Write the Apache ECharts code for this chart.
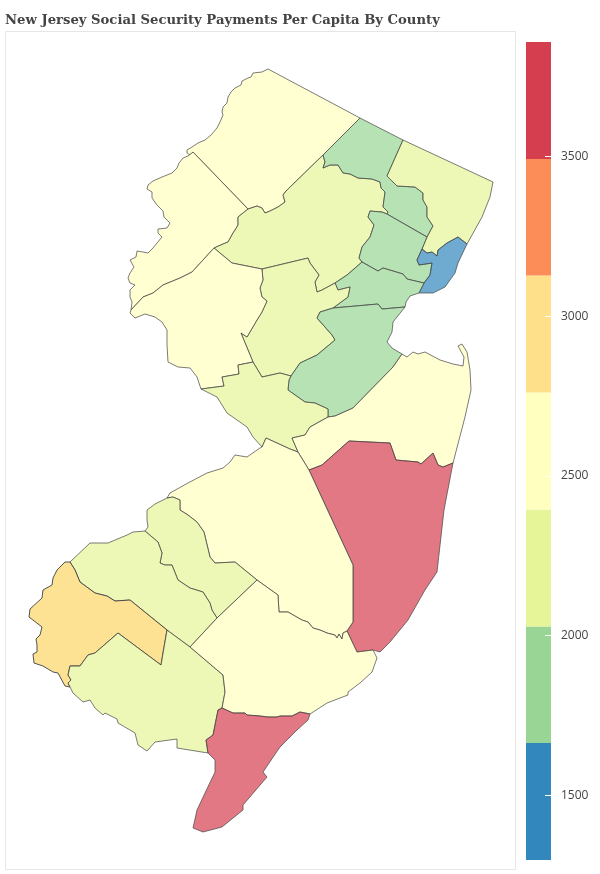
<!DOCTYPE html>
<html>
<head>
<meta charset="utf-8">
<title>New Jersey Social Security Payments Per Capita By County</title>
<script src="https://cdn.jsdelivr.net/npm/echarts@6/dist/echarts.min.js"></script>
<style>
html, body { margin: 0; padding: 0; background: #fff; }
#chart { width: 600px; height: 874px; }
</style>
</head>
<body>
<div id="chart"></div>
<script>
const titleText = 'New Jersey Social Security Payments Per Capita By County';

const countyNames = ['Sussex', 'Warren', 'Morris', 'Passaic', 'Bergen', 'Essex', 'Hudson', 'Union', 'Somerset', 'Middlesex', 'Hunterdon',
    'Mercer', 'Monmouth', 'Ocean', 'Burlington', 'Camden', 'Gloucester', 'Salem', 'Cumberland', 'Atlantic', 'Cape May'];
const countyValues = [2480, 2590, 2260, 1950, 2310, 1780, 1500, 1920, 2200, 2010, 2470,
    2120, 2420, 3600, 2500, 2230, 2290, 2850, 2300, 2650, 3650];

// colour classes, edges
const bandEdges = [1298, 1664, 2029, 2395, 2761, 3127, 3492, 3858];
const bandColors = ['#3288bd', '#99d594', '#e6f598', '#ffffbf', '#fee08b', '#fc8d59', '#d53e4f'];
const tickValues = [1500, 2000, 2500, 3000, 3500];

// county borders, in map units. each one is shared by the two counties on it
const arcs = {
    sussexNE: [[360,118],[268,69]],
    sussexDel: [[268,69],[262,72],[253,73],[251,77],[248,78],[242,81],[241,85],[235,88],[231,92],[228,97],[227,103],[223,107],[222,112],[223,115],[220,122],[217,128],[211,135],[205,140],[198,143],[192,147],[187,150],[187,153],[190,155],[193,152]],
    sussexWarren: [[193,152],[248,209]],
    sussexMorris: [[248,209],[257,206],[262,208],[265,213],[270,211],[278,207],[285,202],[283,195],[286,191],[323,155]],
    sussexPassaic: [[323,155],[360,118]],
    warrenDel: [[193,152],[188,156],[183,158],[179,163],[177,168],[172,173],[162,177],[153,181],[148,185],[147,189],[152,192],[152,198],[157,205],[163,211],[164,217],[170,223],[167,228],[158,229],[158,233],[162,237],[157,243],[153,248],[148,253],[143,252],[137,251],[136,257],[130,260],[134,267],[130,273],[128,278],[130,283],[135,285],[130,290],[130,297],[132,302],[131,310]],
    warrenHunterdon: [[131,310],[143,297],[153,293],[163,285],[180,278],[192,272],[203,260],[214,248]],
    warrenMorris: [[214,248],[223,244],[228,242],[233,233],[235,230],[238,225],[238,217],[248,209]],
    passaicMorris: [[323,155],[325,162],[323,168],[330,165],[338,165],[343,173],[350,174],[358,178],[372,179],[380,182],[381,188],[385,192],[383,207],[388,212],[387,214]],
    passaicNY: [[360,118],[403,140]],
    passaicBergen: [[403,140],[387,176],[397,186],[415,187],[423,193],[423,200],[427,207],[427,217],[433,226],[427,237]],
    passaicEssex: [[427,237],[387,214]],
    essexMorris: [[387,214],[382,212],[370,211],[368,217],[374,225],[370,237],[362,247],[359,258],[362,262]],
    bergenNY: [[403,140],[493,182]],
    bergenCoast: [[493,182],[490,197],[482,217],[467,244]],
    hudsonBergen: [[467,244],[458,237],[447,243],[438,250],[437,256],[432,252],[427,253],[422,249]],
    bergenEssex: [[422,249],[427,237]],
    hudsonEssex: [[422,249],[417,260],[419,265],[432,263],[430,275],[424,283]],
    hudsonUnion: [[424,283],[419,293]],
    hudsonCoast: [[419,293],[433,293],[445,287],[455,273],[458,263],[467,244]],
    essexUnion: [[362,262],[378,271],[383,268],[403,274],[407,279],[424,283]],
    unionMorris: [[362,262],[347,275],[335,283]],
    unionSomerset: [[335,283],[338,290],[350,287],[348,297],[333,308]],
    unionMiddlesex: [[333,308],[378,304],[382,309],[405,307]],
    unionCoast: [[419,293],[410,296],[406,302],[405,307]],
    somersetMorris: [[335,283],[322,290],[317,292],[315,282],[319,275],[310,263],[308,258],[262,269]],
    somersetHunterdon: [[262,269],[263,280],[260,288],[262,297],[267,301],[262,312],[257,320],[247,337],[241,333],[253,362]],
    somersetMercer: [[253,362],[262,377],[280,373],[291,376]],
    middlesexSomerset: [[291,376],[300,363],[317,355],[335,340],[332,335],[317,318],[320,312],[333,308]],
    middlesexCoast: [[405,307],[393,322],[392,332],[387,342],[392,348],[402,354]],
    middlesexMonmouth: [[402,354],[393,367],[353,408],[335,416],[328,417]],
    middlesexMercer: [[328,417],[328,409],[315,403],[305,402],[288,390],[289,380],[291,376]],
    hunterdonMorris: [[262,269],[232,263],[214,248]],
    hunterdonMercer: [[253,362],[238,365],[239,374],[222,377],[224,386],[201,389]],
    hunterdonRiver: [[201,389],[197,377],[190,368],[178,367],[168,362],[167,345],[167,330],[162,322],[155,317],[145,314],[135,318],[130,313],[131,310]],
    mercerRiver: [[201,389],[217,397],[227,413],[247,427],[253,437],[262,447]],
    mercerBurlington: [[262,447],[266,438],[290,449],[298,452]],
    mercerMonmouth: [[328,417],[310,427],[305,435],[292,438],[298,452]],
    monmouthBurlington: [[298,452],[309,470]],
    monmouthOcean: [[309,470],[322,465],[349,441],[390,443],[396,460],[418,462],[421,464],[433,453],[438,465],[443,467],[453,463]],
    monmouthCoast: [[402,354],[407,357],[413,352],[418,354],[425,352],[440,360],[453,364],[463,366],[464,357],[458,346],[462,344],[467,352],[470,370],[471,390],[465,417],[453,463]],
    oceanCoast: [[453,463],[444,510],[437,572],[425,590],[408,620],[390,642],[380,652],[373,650]],
    oceanAtlantic: [[347,631],[357,652],[373,650]],
    burlingtonOcean: [[347,631],[353,622],[353,565],[309,470]],
    burlingtonAtlantic: [[257,580],[278,595],[279,612],[288,612],[302,620],[308,622],[313,628],[320,630],[327,633],[335,635],[337,638],[339,634],[342,639],[343,633],[347,631]],
    burlingtonCamden: [[167,498],[173,497],[180,500],[180,510],[188,515],[197,522],[204,532],[210,557],[215,563],[235,562],[257,580]],
    burlingtonRiver: [[167,498],[170,493],[188,483],[207,473],[223,468],[230,462],[235,455],[247,457],[260,448],[262,447]],
    camdenAtlantic: [[217,618],[257,580]],
    gloucesterCamden: [[145,531],[158,542],[162,553],[160,563],[165,565],[172,565],[178,580],[190,588],[203,592],[210,603],[212,610],[217,618]],
    camdenRiver: [[145,531],[148,527],[147,520],[147,510],[155,504],[167,498]],
    gloucesterRiver: [[70,562],[90,543],[108,543],[127,535],[133,532],[145,531]],
    gloucesterAtlantic: [[217,618],[190,647]],
    gloucesterCumberland: [[190,647],[167,630]],
    salemGloucester: [[167,630],[130,600],[115,601],[107,596],[95,593],[80,582],[75,570],[70,562]],
    salemRiver: [[70,562],[65,562],[57,570],[53,578],[52,585],[43,590],[42,598],[30,609],[29,617],[42,627],[40,635],[36,639],[37,645],[37,652],[33,654],[34,663],[43,666],[53,672],[58,673],[65,686],[70,687]],
    salemCumberland: [[70,687],[68,683],[71,680],[68,675],[70,666],[80,666],[88,655],[95,653],[118,633],[161,665],[163,653],[167,630]],
    cumberlandAtlantic: [[190,647],[223,675],[225,692],[222,708]],
    cumberlandCapeMay: [[222,708],[218,710],[213,735],[206,740],[208,753]],
    cumberlandBay: [[208,753],[177,748],[177,739],[155,742],[147,751],[138,745],[135,733],[118,723],[117,719],[105,713],[103,715],[95,708],[90,700],[83,702],[73,693],[70,687]],
    atlanticCoast: [[373,650],[377,658],[372,672],[360,683],[348,692],[348,695],[340,698],[327,703],[310,714]],
    atlanticCapeMay: [[310,714],[300,712],[292,716],[280,716],[277,717],[268,717],[260,716],[247,715],[245,713],[233,713],[222,708]],
    capeMayCoast: [[208,753],[215,760],[215,772],[205,793],[197,810],[193,828],[203,832],[222,827],[243,810],[243,805],[267,777],[263,772],[280,747],[297,730],[308,720],[310,714]]
};

// which arcs go around each county, '-' means walk it backwards
const countyArcs = {
    'Sussex': 'sussexNE sussexDel sussexWarren sussexMorris sussexPassaic',
    'Warren': 'warrenDel warrenHunterdon warrenMorris -sussexWarren',
    'Morris': 'sussexMorris passaicMorris essexMorris unionMorris somersetMorris hunterdonMorris warrenMorris',
    'Passaic': 'passaicNY passaicBergen passaicEssex -passaicMorris sussexPassaic',
    'Bergen': 'bergenNY bergenCoast hudsonBergen bergenEssex -passaicBergen',
    'Essex': '-bergenEssex hudsonEssex -essexUnion -essexMorris -passaicEssex',
    'Hudson': 'hudsonBergen hudsonEssex hudsonUnion hudsonCoast',
    'Union': 'essexUnion hudsonUnion unionCoast -unionMiddlesex -unionSomerset -unionMorris',
    'Somerset': 'somersetMorris somersetHunterdon somersetMercer middlesexSomerset -unionSomerset',
    'Middlesex': 'unionMiddlesex middlesexCoast middlesexMonmouth middlesexMercer middlesexSomerset',
    'Hunterdon': 'warrenHunterdon -hunterdonMorris somersetHunterdon hunterdonMercer hunterdonRiver',
    'Mercer': 'hunterdonMercer mercerRiver mercerBurlington -mercerMonmouth middlesexMercer -somersetMercer',
    'Monmouth': 'monmouthBurlington monmouthOcean -monmouthCoast middlesexMonmouth mercerMonmouth',
    'Ocean': 'monmouthOcean oceanCoast -oceanAtlantic burlingtonOcean',
    'Burlington': 'monmouthBurlington -burlingtonOcean -burlingtonAtlantic -burlingtonCamden burlingtonRiver mercerBurlington',
    'Camden': 'burlingtonCamden -camdenAtlantic -gloucesterCamden camdenRiver',
    'Gloucester': 'gloucesterRiver gloucesterCamden gloucesterAtlantic gloucesterCumberland salemGloucester',
    'Salem': 'salemRiver salemCumberland salemGloucester',
    'Cumberland': 'salemCumberland -gloucesterCumberland cumberlandAtlantic cumberlandCapeMay cumberlandBay',
    'Atlantic': 'burlingtonAtlantic oceanAtlantic atlanticCoast atlanticCapeMay -cumberlandAtlantic -gloucesterAtlantic camdenAtlantic',
    'Cape May': 'cumberlandCapeMay capeMayCoast atlanticCapeMay'
};

function ring(name) {
    let points = [];
    countyArcs[name].split(' ').forEach((key) => {
        let arc = key[0] === '-' ? arcs[key.slice(1)].slice().reverse() : arcs[key];
        points = points.concat(arc);
    });
    points.push(points[0]);
    return points;
}

echarts.registerMap('NJ', {
    type: 'FeatureCollection',
    features: countyNames.map((name) => ({
        type: 'Feature',
        properties: { name: name },
        geometry: { type: 'Polygon', coordinates: [ring(name)] }
    }))
});

const bandSeries = bandColors.map((color, i) => ({
    type: 'bar',
    stack: 'bar',
    xAxisIndex: 0,
    yAxisIndex: 0,
    barWidth: '100%',
    silent: true,
    itemStyle: { color: color },
    data: [i === 0 ? bandEdges[1] : bandEdges[i + 1] - bandEdges[i]]
}));

const chart = echarts.init(document.getElementById('chart'), null, { renderer: 'canvas' });
chart.setOption({
    animation: false,
    backgroundColor: '#fff',
    title: {
        text: titleText,
        left: 0,
        top: 9,
        textStyle: { fontFamily: 'DejaVu Serif', fontSize: 13.2, fontWeight: 'bold', color: '#444' }
    },
    graphic: [{
        type: 'rect',
        silent: true,
        z: -1,
        shape: { x: 5.5, y: 31.5, width: 510, height: 838 },
        style: { fill: 'none', stroke: '#e6e6e6', lineWidth: 1 }
    }],
    grid: { left: 526, top: 42, width: 25, height: 818 },
    xAxis: { type: 'category', data: ['bar'], show: false },
    yAxis: {
        type: 'value',
        position: 'right',
        z: 10, // ticks sit on top of the bar
        min: bandEdges[0],
        max: bandEdges[bandEdges.length - 1],
        splitLine: { show: false },
        axisLine: { show: false },
        axisTick: { show: true, inside: true, length: 6, customValues: tickValues, lineStyle: { color: '#fff', width: 1 } },
        axisLabel: { margin: 10, customValues: tickValues, formatter: (v) => String(v), fontFamily: 'Open Sans', fontSize: 12, color: '#444' }
    },
    visualMap: {
        show: false,
        type: 'piecewise',
        seriesIndex: 0,
        pieces: bandColors.map((color, i) => ({ gte: bandEdges[i], lt: bandEdges[i + 1], color: color }))
    },
    series: [{
        type: 'map',
        map: 'NJ',
        projection: { project: (p) => p, unproject: (p) => p },
        left: 29,
        top: 69,
        width: 464,
        height: 763,
        roam: false,
        silent: true,
        selectedMode: false,
        label: { show: false },
        itemStyle: { borderColor: '#444', borderWidth: 1, opacity: 0.7 },
        data: countyNames.map((name, i) => ({
            name: name,
            value: countyValues[i],
            // Salem is painted almost solid in the reference
            itemStyle: name === 'Salem' ? { opacity: 0.92 } : undefined
        }))
    }].concat(bandSeries)
});
</script>
</body>
</html>
